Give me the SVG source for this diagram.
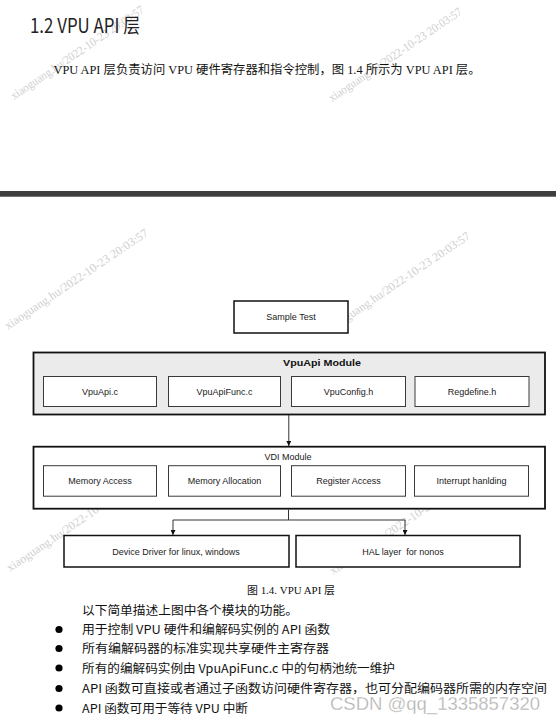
<svg xmlns="http://www.w3.org/2000/svg" width="556" height="723" viewBox="0 0 556 723">
<defs>
<style>
.wm{font-family:"Liberation Serif",serif;font-size:12px;fill:#d0d0d0}
.box{fill:#ffffff;stroke:#111;stroke-width:1.5}
.outer{stroke:#111;stroke-width:1.8}
.inner{fill:#ffffff;stroke:#3a3a3a;stroke-width:1}
.lbl{font-family:"Liberation Sans",Arial,sans-serif;font-size:9px;fill:#1a1a1a;text-anchor:middle}
.conn{fill:none;stroke:#333;stroke-width:1}
.cn{font-family:"Noto Sans CJK SC",sans-serif;font-size:12px;fill:#111}
.sf{font-family:"Liberation Serif","Noto Sans CJK SC",serif;fill:#111}
</style>
<marker id="arr" viewBox="0 0 10 10" refX="10" refY="5" markerWidth="5" markerHeight="5" orient="auto" markerUnits="userSpaceOnUse">
<path d="M0,0 L10,5 L0,10 z" fill="#111"/>
</marker>
</defs>
<rect width="556" height="723" fill="#ffffff"/>

<g id="watermarks">
<text class="wm" transform="translate(14,100) rotate(-34)" font-size="11.5" textLength="158" lengthAdjust="spacingAndGlyphs">xiaoguang.hu/2022-10-23 20:03:57</text>
<text class="wm" transform="translate(332,102) rotate(-34)" font-size="11.5" textLength="158" lengthAdjust="spacingAndGlyphs">xiaoguang.hu/2022-10-23 20:03:57</text>
<text class="wm" transform="translate(8,330) rotate(-34)" textLength="170" lengthAdjust="spacingAndGlyphs">xiaoguang.hu/2022-10-23 20:03:57</text>
<text class="wm" transform="translate(330,333) rotate(-34)" textLength="170" lengthAdjust="spacingAndGlyphs">xiaoguang.hu/2022-10-23 20:03:57</text>
<text class="wm" transform="translate(10,572) rotate(-34)" textLength="170" lengthAdjust="spacingAndGlyphs">xiaoguang.hu/2022-10-23 20:03:57</text>
<text class="wm" transform="translate(333,575) rotate(-34)" textLength="170" lengthAdjust="spacingAndGlyphs">xiaoguang.hu/2022-10-23 20:03:57</text>
</g>

<g id="header">
<text x="30" y="32.5" font-family="'Noto Sans CJK SC',sans-serif" font-size="20" fill="#222" textLength="110" lengthAdjust="spacingAndGlyphs">1.2 VPU API 层</text>
<text class="sf" x="53.5" y="74" font-size="12" textLength="427" lengthAdjust="spacingAndGlyphs">VPU API 层负责访问 VPU 硬件寄存器和指令控制，图 1.4 所示为 VPU API 层。</text>
<rect x="0" y="191" width="556" height="5.7" fill="#3e3e3e"/>
</g>

<g id="sample-test">
<rect class="box" x="234" y="301" width="114" height="32"/>
<text class="lbl" x="291" y="319.5">Sample Test</text>
</g>

<g id="vpuapi-module">
<rect class="outer" x="33.5" y="352.5" width="511.5" height="62" fill="#ebebeb"/>
<text x="283" y="365.5" font-family="'Liberation Sans',Arial,sans-serif" font-size="9.5" font-weight="bold" fill="#111" textLength="78" lengthAdjust="spacingAndGlyphs">VpuApi Module</text>
</g>
<g id="vpuapi-c"><rect class="inner" x="43.5" y="376.5" width="113" height="30"/><text class="lbl" x="100" y="395">VpuApi.c</text></g>
<g id="vpuapifunc-c"><rect class="inner" x="168.5" y="376.5" width="112" height="30"/><text class="lbl" x="224.5" y="395">VpuApiFunc.c</text></g>
<g id="vpuconfig-h"><rect class="inner" x="291.5" y="376.5" width="114" height="30"/><text class="lbl" x="348.5" y="395">VpuConfig.h</text></g>
<g id="regdefine-h"><rect class="inner" x="415" y="376.5" width="114" height="30"/><text class="lbl" x="472" y="395">Regdefine.h</text></g>

<g id="vdi-module">
<rect class="outer" x="33.5" y="446.7" width="511.5" height="62" fill="#ffffff"/>
<text class="lbl" x="288" y="460">VDI Module</text>
</g>
<g id="memory-access"><rect class="inner" x="43.5" y="465.7" width="113" height="30.5"/><text class="lbl" x="100" y="484">Memory Access</text></g>
<g id="memory-allocation"><rect class="inner" x="168.5" y="465.7" width="112" height="30.5"/><text class="lbl" x="224.5" y="484">Memory Allocation</text></g>
<g id="register-access"><rect class="inner" x="291.5" y="465.7" width="114" height="30.5"/><text class="lbl" x="348.5" y="484">Register Access</text></g>
<g id="interrupt-handling"><rect class="inner" x="414.5" y="465.7" width="114" height="30.5"/><text class="lbl" x="471.5" y="484">Interrupt hanlding</text></g>

<g id="device-driver"><rect class="box" x="64" y="535.5" width="225" height="31.5"/><text class="lbl" x="176" y="554.5">Device Driver for linux, windows</text></g>
<g id="hal-layer"><rect class="box" x="296" y="535.5" width="224" height="31.5"/><text class="lbl" x="403" y="554.5" xml:space="preserve">HAL layer  for nonos</text></g>

<g id="connectors">
<line class="conn" x1="288.8" y1="415" x2="288.8" y2="446" marker-end="url(#arr)"/>
<polyline class="conn" points="288.5,509.5 288.5,520 173,520"/>
<line class="conn" x1="173" y1="520" x2="173" y2="535" marker-end="url(#arr)"/>
<polyline class="conn" points="288.5,520 405,520 405,535" marker-end="url(#arr)"/>
</g>

<g id="body">
<text class="sf" x="247" y="593.5" font-size="10.5" textLength="88" lengthAdjust="spacingAndGlyphs">图 1.4. VPU API 层</text>
<text class="cn" x="82" y="615" textLength="216" lengthAdjust="spacingAndGlyphs">以下简单描述上图中各个模块的功能。</text>
<circle cx="59" cy="629.5" r="3.6" fill="#000"/>
<circle cx="59" cy="648.5" r="3.6" fill="#000"/>
<circle cx="59" cy="668" r="3.6" fill="#000"/>
<circle cx="59" cy="688.5" r="3.6" fill="#000"/>
<circle cx="59" cy="708" r="3.6" fill="#000"/>
<text class="cn" x="82" y="634" textLength="248" lengthAdjust="spacingAndGlyphs">用于控制 VPU 硬件和编解码实例的 API 函数</text>
<text class="cn" x="82" y="653" textLength="247" lengthAdjust="spacingAndGlyphs">所有编解码器的标准实现共享硬件主寄存器</text>
<text class="cn" x="82" y="672.5" textLength="313" lengthAdjust="spacingAndGlyphs">所有的编解码实例由 VpuApiFunc.c 中的句柄池统一维护</text>
<text class="cn" x="82" y="693" textLength="465" lengthAdjust="spacingAndGlyphs">API 函数可直接或者通过子函数访问硬件寄存器，也可分配编码器所需的内存空间</text>
<text class="cn" x="82" y="712.5" textLength="166" lengthAdjust="spacingAndGlyphs">API 函数可用于等待 VPU 中断</text>
<text x="330" y="710" font-family="'Liberation Sans',Arial,sans-serif" font-size="18" fill="#b0b0b0" stroke="#ffffff" stroke-width="0.3" textLength="210" lengthAdjust="spacingAndGlyphs">CSDN @qq_1335857320</text>
</g>
</svg>
